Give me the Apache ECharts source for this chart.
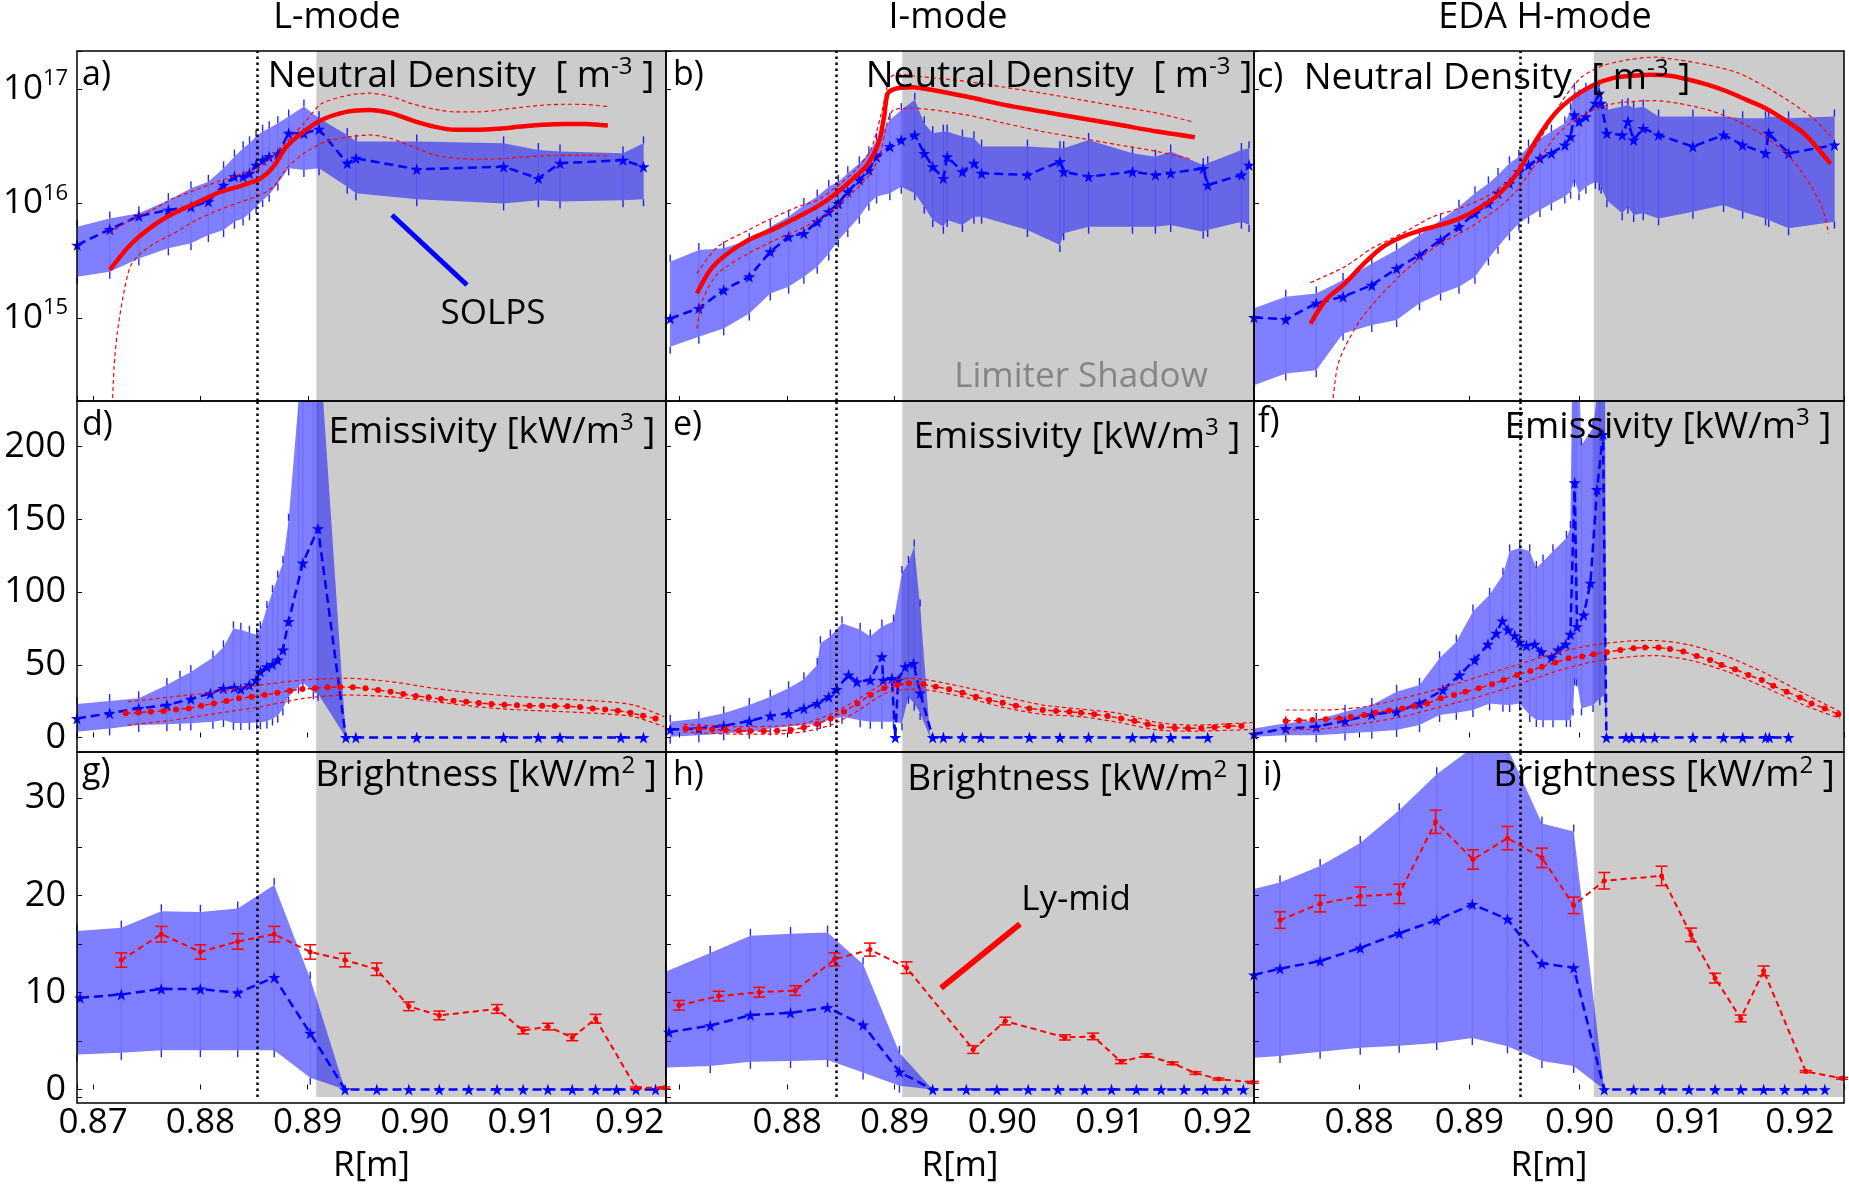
<!DOCTYPE html>
<html>
<head>
<meta charset="utf-8">
<title>Neutral density, emissivity and brightness profiles</title>
<script src="https://cdn.jsdelivr.net/npm/echarts@6.0.0/dist/echarts.min.js"></script>
<style>
  html, body { margin: 0; padding: 0; background: #fff; }
  #main { width: 1849px; height: 1187px; }
</style>
</head>
<body>
<div id="main"></div>
<script>
// ---------- data ----------
// bands are [R, lower, upper]; lines are [R, value]; brightness Ly-mid is [R, value, error]

// a) L-mode neutral density
var aBand = [[.8685,2.29e15,6.27e15],[.87154,2.53e15,7.41e15],[.87425,3.31e15,8.20e15],[.877,4.05e15,1.07e16],
  [.87911,4.48e15,1.36e16],[.88073,5.30e15,1.55e16],[.88215,5.86e15,2.03e16],[.88316,6.93e15,2.57e16],
  [.88397,7.41e15,3.04e16],[.88457,8.20e15,3.36e16],[.88518,9.38e15,3.85e16],[.88579,1.07e16,4.26e16],
  [.8864,1.19e16,4.55e16],[.88721,1.50e16,5.04e16],[.88822,2.03e16,5.77e16],[.88964,1.96e16,7.05e16],
  [.89105,2.03e16,5.57e16],[.89368,1.40e16,3.98e16],[.89449,1.23e16,3.48e16],[.90016,1.09e16,3.48e16],
  [.90826,1.00e16,3.36e16],[.9115,1.07e16,2.94e16],[.91352,1.04e16,2.85e16],[.91939,1.07e16,2.75e16],[.9213,1.09e16,3.36e16]];
var aSolps = [[.8685,4.33e15],[.87154,5.94e15],[.87425,7.76e15],[.877,8.77e15],[.87911,9.38e15],[.88073,1.04e16],
  [.88215,1.45e16],[.88316,1.72e16],[.88397,1.72e16],[.88457,1.84e16],[.88518,2.17e16],[.88579,2.40e16],
  [.8864,2.57e16],[.88721,2.72e16],[.88822,4.12e16],[.88964,4.12e16],[.89105,4.47e16],[.89368,2.25e16],
  [.89449,2.49e16],[.90016,1.99e16],[.90826,2.10e16],[.9115,1.66e16],[.91352,2.25e16],[.91939,2.40e16],[.9213,2.10e16]];
var aLy = [[.87154,2.62e15],[.87344,4.33e15],[.87547,6.27e15],[.87749,8.20e15],[.87951,1.00e16],[.88154,1.23e16],
  [.88397,1.45e16],[.88559,1.66e16],[.8868,2.10e16],[.88802,3.15e16],[.88964,4.26e16],[.89126,5.38e16],
  [.89368,6.37e16],[.89571,6.59e16],[.89773,6.17e16],[.89976,5.32e16],[.90178,4.71e16],[.90381,4.41e16],
  [.90583,4.41e16],[.90785,4.52e16],[.90988,4.71e16],[.9119,4.88e16],[.91393,4.97e16],[.91595,4.97e16],[.91798,4.81e16]];
var aLyHi = [[.87154,5.48e15],[.87344,7.16e15],[.87547,8.77e15],[.87749,1.11e16],[.87951,1.31e16],[.88154,1.55e16],
  [.88397,1.84e16],[.88559,2.10e16],[.88761,3.15e16],[.88964,5.04e16],[.89126,7.45e16],[.89368,8.81e16],
  [.89571,9.23e16],[.89773,8.63e16],[.89976,7.45e16],[.90178,6.69e16],[.90381,6.33e16],[.90583,6.33e16],
  [.90785,6.59e16],[.90988,6.95e16],[.9119,7.24e16],[.91393,7.39e16],[.91595,7.35e16],[.91798,7.05e16]];
var aLyLo = [[.87176,1.5e14],[.87194,3.72e14],[.87223,7.29e14],[.87283,1.63e15],[.87344,2.80e15],[.87425,3.54e15],
  [.87547,4.33e15],[.87749,5.48e15],[.87951,7.08e15],[.88154,8.65e15],[.88397,1.05e16],[.88559,1.19e16],
  [.8868,1.40e16],[.88802,2.03e16],[.88964,2.75e16],[.89166,3.48e16],[.89368,3.80e16],[.89571,3.98e16],
  [.89773,3.72e16],[.89976,3.15e16],[.90178,2.66e16],[.90381,2.49e16],[.90583,2.44e16],[.90785,2.46e16],
  [.90988,2.54e16],[.9119,2.61e16],[.91393,2.64e16],[.91595,2.64e16],[.91798,2.61e16]];

// b) I-mode neutral density
var bBand = [[.86914,5.57e14,3.10e15],[.8718,6.82e14,3.92e15],[.87411,8.07e14,4.05e15],[.87649,1.09e15,4.79e15],
  [.87844,1.63e15,6.27e15],[.88014,1.87e15,7.67e15],[.88156,2.29e15,9.70e15],[.8828,2.80e15,1.15e16],
  [.88387,3.66e15,1.40e16],[.88476,4.79e15,1.55e16],[.88564,5.86e15,1.84e16],[.88671,7.67e15,2.25e16],
  [.8876,1.00e16,2.75e16],[.88831,1.15e16,3.60e16],[.88955,1.23e16,5.38e16],[.89061,1.40e16,6.59e16],
  [.89186,1.23e16,8.07e16],[.89274,9.38e15,5.04e16],[.89353,7.16e15,4.12e16],[.89452,6.27e15,4.26e16],
  [.89487,7.16e15,4.26e16],[.89629,6.49e15,3.85e16],[.89736,7.67e15,3.72e16],[.89807,7.67e15,3.15e16],
  [.90233,5.86e15,3.15e16],[.90535,4.33e15,3.04e16],[.9057,5.48e15,3.04e16],[.90801,6.27e15,3.60e16],
  [.91209,6.27e15,2.75e16],[.91422,6.27e15,2.57e16],[.91564,6.49e15,2.85e16],[.91866,5.66e15,2.17e16],
  [.91908,5.86e15,2.25e16],[.92221,6.93e15,2.94e16],[.92292,6.49e15,3.04e16]];
var bSolps = [[.86914,9.86e14],[.8718,1.21e15],[.87411,1.75e15],[.87649,2.29e15],[.87844,3.79e15],[.88014,5.12e15],
  [.88156,5.48e15],[.8828,6.93e15],[.88387,8.48e15],[.88476,1.00e16],[.88564,1.27e16],[.88671,1.61e16],
  [.8876,1.96e16],[.88831,2.57e16],[.88955,3.15e16],[.89061,3.60e16],[.89186,3.98e16],[.89274,2.75e16],
  [.89353,2.10e16],[.89452,1.66e16],[.89487,2.57e16],[.89629,1.90e16],[.89736,2.25e16],[.89807,1.84e16],
  [.90233,1.78e16],[.90535,2.32e16],[.9057,1.90e16],[.90801,1.72e16],[.91209,1.90e16],[.91422,1.78e16],
  [.91564,1.84e16],[.91866,2.03e16],[.91908,1.45e16],[.92221,1.78e16],[.92292,2.17e16]];
var bLy = [[.87162,1.63e15],[.87286,2.62e15],[.87428,3.54e15],[.87641,4.79e15],[.8789,6.06e15],[.88103,7.67e15],
  [.8828,9.38e15],[.88458,1.23e16],[.886,1.61e16],[.88742,2.17e16],[.88848,3.36e16],[.88902,5.77e16],
  [.88937,9.23e16],[.89026,1.02e17],[.89168,1.04e17],[.8931,1.00e17],[.89665,8.63e16],[.9002,7.29e16],
  [.90375,6.37e16],[.9073,5.57e16],[.91085,4.88e16],[.9144,4.26e16],[.91788,3.80e16]];
var bLyHi = [[.87162,2.45e15],[.87357,4.19e15],[.87641,5.86e15],[.8789,7.67e15],[.88103,9.38e15],[.8828,1.07e16],
  [.88458,1.40e16],[.88635,1.96e16],[.88777,2.94e16],[.88884,6.59e16],[.88955,1.25e17],[.89026,1.36e17],
  [.89168,1.31e17],[.89665,1.17e17],[.9002,1.04e17],[.90375,9.23e16],[.9073,8.07e16],[.91085,7.05e16],
  [.9144,6.17e16],[.91759,5.21e16]];
var bLyLo = [[.87162,8.07e14],[.87215,1.43e15],[.87357,2.45e15],[.87641,3.66e15],[.8789,4.79e15],[.88103,5.86e15],
  [.8828,7.16e15],[.88458,9.38e15],[.88635,1.31e16],[.88777,1.84e16],[.88866,2.75e16],[.88937,5.38e16],
  [.8899,6.59e16],[.89168,6.82e16],[.89665,5.96e16],[.9002,5.04e16],[.90375,4.26e16],[.9073,3.72e16],
  [.91085,3.25e16],[.9144,2.85e16],[.91759,2.44e16]];

// c) EDA H-mode neutral density
var cR = [.87046,.87334,.87611,.87854,.88115,.8834,.88548,.88739,.88906,.89051,.89173,.8926,.89364,.8945,.89537,
  .89641,.89745,.89867,.89919,.89953,.89995,.90058,.90144,.90179,.90196,.90248,.90387,.90439,.90491,.90578,
  .90717,.91029,.91307,.9148,.91688,.91716,.91897,.92313];
var cSolpsN = [1.01e15,9.67e14,1.34e15,1.53e15,1.93e15,2.70e15,3.54e15,4.79e15,6.27e15,8.20e15,1.00e16,1.23e16,
  1.50e16,1.90e16,2.17e16,2.49e16,2.75e16,3.25e16,3.85e16,5.96e16,5.21e16,5.77e16,7.54e16,9.23e16,7.54e16,
  4.12e16,3.98e16,5.21e16,3.60e16,4.55e16,3.98e16,3.15e16,3.98e16,3.25e16,2.75e16,4.12e16,2.75e16,3.25e16];
var cBandLo = [2.57e14,3.25e14,3.48e14,7.29e14,8.63e14,9.55e14,1.34e15,1.63e15,1.87e15,2.29e15,3.31e15,4.19e15,
  5.48e15,6.70e15,7.67e15,8.77e15,1.00e16,1.15e16,1.27e16,1.61e16,1.23e16,1.40e16,1.55e16,1.50e16,1.40e16,
  1.07e16,8.20e15,9.38e15,7.93e15,8.20e15,7.41e15,8.48e15,9.70e15,8.48e15,7.41e15,7.16e15,6.06e15,6.93e15];
var cBandHi = [1.21e15,1.53e15,1.63e15,2.14e15,2.99e15,3.92e15,5.30e15,7.16e15,9.38e15,1.23e16,1.50e16,1.78e16,
  2.25e16,2.57e16,3.15e16,3.72e16,4.26e16,5.04e16,6.59e16,9.87e16,8.63e16,9.87e16,1.13e17,1.05e17,8.07e16,
  6.59e16,7.05e16,7.29e16,6.82e16,7.05e16,5.77e16,5.77e16,5.77e16,5.57e16,5.57e16,5.77e16,5.57e16,5.77e16];
var cLyR = [.87559,.87698,.87872,.88045,.88219,.88392,.88566,.88739,.88913,.89086,.8926,.89433,.89607,.8978,
  .89953,.90127,.90301,.90474,.90647,.90821,.90994,.91168,.91341,.91515,.91688,.91862,.92035,.92174,.92278];
var cLyN = [8.91e14,1.43e15,2.00e15,2.99e15,4.19e15,5.12e15,5.86e15,6.49e15,7.41e15,9.08e15,1.19e16,1.84e16,
  3.60e16,6.17e16,8.63e16,1.09e17,1.25e17,1.31e17,1.34e17,1.31e17,1.21e17,1.09e17,9.55e16,8.07e16,6.82e16,
  5.38e16,4.12e16,2.94e16,2.22e16];
var cLyHi = [[.87559,2.03e15],[.87872,2.80e15],[.88115,4.05e15],[.88392,5.48e15],[.8867,7.67e15],[.88913,9.08e15],
  [.89155,1.15e16],[.89364,1.61e16],[.89537,2.57e16],[.89711,4.71e16],[.89849,8.07e16],[.90023,1.29e17],
  [.90231,1.63e17],[.90474,1.83e17],[.90682,1.91e17],[.9089,1.81e17],[.91168,1.63e17],[.91446,1.38e17],
  [.91688,1.05e17],[.91931,7.54e16],[.92139,5.38e16],[.92278,3.85e16]];
var cLyLo = [[.8775,1.5e14],[.87802,3.72e14],[.87872,5.57e14],[.8801,9.55e14],[.88184,1.53e15],[.88392,2.45e15],
  [.88566,3.42e15],[.88739,4.48e15],[.88913,5.48e15],[.89086,6.93e15],[.8926,9.08e15],[.89433,1.31e16],
  [.89607,2.25e16],[.8978,3.85e16],[.89953,5.38e16],[.90127,6.59e16],[.90301,7.45e16],[.90474,7.80e16],
  [.90682,7.96e16],[.9089,7.54e16],[.91168,6.59e16],[.91446,5.21e16],[.91688,3.85e16],[.91931,2.40e16],
  [.92105,1.40e16],[.92209,8.77e15],[.92261,5.48e15]];

// d) L-mode emissivity
var dBand = [[.8685,3.9,23],[.87154,6.2,25],[.87425,8.5,27],[.87688,9.0,36],[.8781,9.5,41],[.87911,9.7,45],
  [.88117,10.8,55],[.88215,12,62],[.88308,10,75],[.88377,10,74],[.88457,10,72],[.88526,10.5,70.6],
  [.88559,10.5,75],[.8862,11,89],[.88672,13,100],[.88721,15,110],[.88769,20,120],[.88822,28,149],
  [.88915,35,231],[.88955,38,265],[.89053,31,280],[.89097,30,284],[.89356,0,0]];
var dSolps = [[.8685,13.1],[.87154,16.6],[.87425,20.0],[.87688,22.3],[.87911,26.4],[.88093,30.3],[.88215,33.8],
  [.88316,34.3],[.88377,33.3],[.88457,36.1],[.88518,39.5],[.88559,45.3],[.8862,48.7],[.88672,50.3],
  [.88721,53.3],[.88769,60.2],[.88822,79.8],[.88955,120.0],[.89097,143.7],[.89356,0],[.89449,0],
  [.90016,0],[.90826,0],[.9115,0],[.91352,0],[.91919,0],[.9213,0]];
var dLyR = [.87304,.87421,.87538,.87656,.87773,.87891,.88008,.88125,.88243,.8836,.88478,.88599,.88717,.88834,
  .88951,.89069,.89186,.89304,.89421,.89538,.89656,.89773,.89891,.90008,.90126,.90243,.9036,.90478,.90595,
  .90713,.90834,.90951,.91069,.91186,.91304,.91421,.91538,.91656,.91773,.91891,.92008,.92126,.92243];
var dLyE = [16.6,17.2,17.7,18.2,19.3,20.0,21.8,23.4,25.1,26.9,28.0,29.2,30.8,32.2,33.3,33.8,34.5,34.7,34.5,33.8,
  32.6,31.5,29.9,28.5,27.6,26.4,25.3,24.6,23.7,23.0,22.5,22.1,21.8,21.8,21.6,21.4,20.9,20.0,19.3,18.4,17.0,14.9,13.1];
var dFitR = [.87324,.87749,.88154,.88559,.88964,.89368,.89773,.90178,.90583,.90988,.91393,.91798,.9204,.92324];
var dLyHiE = [24.6,28.0,31.5,36.1,39.5,40.7,38.4,33.8,30.3,28.0,26.4,24.6,22.3,14.3];
var dLyLoE = [8.5,12.0,16.6,21.1,26.9,29.2,28.0,24.6,21.1,18.9,17.7,16.1,14.3,7.4];

// e) I-mode emissivity
var eBand = [[.86914,0.5,10.8],[.8718,1.6,13.1],[.87411,2.8,16.6],[.87649,3.9,22.3],[.87844,6.2,28.0],
  [.88014,7.5,33.8],[.88156,8.5,40],[.8828,9.5,50],[.88309,10.8,64.8],[.88402,12,69.4],[.8851,14.2,78.6],
  [.88679,11.9,74.0],[.88773,10.8,69.4],[.88881,10.8,76.3],[.88989,10.8,79.7],[.89067,9.7,113.1],
  [.89128,28,120.0],[.89181,23.4,131.4],[.89236,16.8,90.1],[.89329,0,0]];
var eSolps = [[.86914,5.5],[.8718,6.2],[.87411,8.0],[.87649,11.3],[.87844,14.9],[.88014,16.6],[.88156,20.0],
  [.8828,23.4],[.88387,28.0],[.88458,33.0],[.88571,43.0],[.88649,38.3],[.88773,39.5],[.88881,55.6],
  [.88893,39.5],[.88974,40.7],[.89005,0],[.89032,39.5],[.89097,48.7],[.89174,51.0],[.89236,30.6],
  [.89353,0],[.89452,0],[.89629,0],[.898,0],[.90251,0],[.90535,0],[.90801,0],[.91209,0],[.91404,0],
  [.91564,0],[.91908,0]];
var eLyR = [.87056,.8718,.87304,.87428,.87553,.87659,.87783,.87908,.88032,.88156,.8828,.88405,.88529,.88653,
  .88777,.88902,.89026,.89132,.89267,.89381,.89505,.89629,.89754,.89878,.90002,.90126,.90251,.90375,.90499,
  .90623,.9073,.90854,.90978,.91103,.91227,.91351,.91475,.916,.91724,.91848,.91972,.92097,.92221];
var eLyE = [6.2,6.2,5.5,5.1,4.6,4.4,4.4,4.6,5.1,6.9,9.2,13.1,17.7,23.4,29.2,33.8,36.1,37.2,36.6,34.9,33.1,30.8,
  28.0,25.7,23.9,21.8,20.0,18.9,18.2,17.7,17.0,15.9,14.7,13.1,11.3,9.0,7.4,6.7,6.4,6.4,7.1,7.8,7.8];
var eFitR = [.87038,.8718,.87535,.8789,.88156,.88422,.88671,.88902,.89132,.8931,.89665,.9002,.90375,.9073,
  .91085,.9144,.91795,.92327];
var eLyHiE = [9.0,8.5,7.4,7.8,9.7,16.6,26.9,37.2,40.7,39.5,34.3,28.0,22.3,19.5,16.6,10.3,8.5,10.3];
var eLyLoE = [3.9,3.2,2.3,2.3,3.9,9.0,18.9,29.9,33.1,32.6,27.4,20.5,15.9,14.3,10.3,5.1,4.4,5.5];

// f) EDA H-mode emissivity
var fBand = [[.87046,0.5,6.2],[.87334,1.6,9.7],[.87611,1.6,12.0],[.87872,2.8,17.7],[.88115,3.9,22.3],
  [.8834,5.1,31.5],[.88548,8.5,36.1],[.8873,15.4,54.5],[.88882,17,65.9],[.89033,18.8,86.6],[.89184,23.4,98.1],
  [.89305,22.5,111.9],[.89366,22.3,128.0],[.89457,23.4,130.3],[.89548,15.4,128.0],[.89608,12,116.6],
  [.89669,11.9,121.1],[.89759,11.9,128.0],[.89881,11.9,137.2],[.89917,11.9,144.1],[.89941,20,300],
  [.89956,40.7,300],[.89972,40,300],[.90018,20,201],[.90123,22.3,213],[.90184,27,250],[.90229,29.2,260],
  [.90244,0,0]];
var fSolps = [[.87046,2.3],[.87334,6.2],[.87611,7.4],[.87872,11.3],[.88115,15.9],[.8834,17.7],[.88548,23.4],
  [.8876,32.6],[.88912,43.0],[.89048,53.3],[.89169,64.1],[.89245,71.7],[.893,80.2],[.89351,74.0],[.89411,70.1],
  [.89457,65.5],[.89518,63.2],[.89593,64.1],[.89654,59.0],[.89745,54.9],[.89805,60.2],[.89875,64.1],
  [.89917,71.0],[.89956,175.2],[.89977,76.3],[.90038,84.3],[.90099,106.2],[.90159,170.6],[.90213,208.5],
  [.90244,0],[.90422,0],[.90474,0],[.90578,0],[.90682,0],[.91029,0],[.91307,0],[.9148,0],[.91688,0],
  [.91723,0],[.91897,0]];
var fLyR = [.87334,.87455,.87577,.87698,.8782,.87924,.88045,.88149,.88271,.88392,.88496,.88618,.88739,.88861,
  .88965,.89086,.89207,.89312,.89433,.89554,.89659,.8978,.89901,.90023,.90127,.90248,.9037,.90491,.90595,
  .90717,.90821,.90942,.91064,.91185,.91289,.91411,.91532,.91654,.91758,.91879,.92001,.92105,.92226,.92348];
var fLyE = [11.3,11.7,12.0,12.6,13.1,14.0,15.4,17.0,18.6,20.0,21.6,23.4,26.9,29.2,31.5,33.8,36.6,39.5,43.0,45.7,
  48.7,51.5,54.5,55.6,57.2,58.6,60.2,61.4,61.8,61.8,60.9,59.1,56.1,53.3,49.9,46.9,43.0,39.5,35.6,31.5,27.4,
  23.4,20.0,15.9];
var fFitR = [.87334,.87698,.88045,.88392,.88739,.89086,.89433,.8978,.90127,.90474,.90682,.90994,.91341,.91688,
  .92035,.92365];
var fLyHiE = [18.9,18.9,21.1,26.9,33.8,41.8,49.9,57.9,63.7,66.4,66.7,63.7,55.6,44.1,30.3,17.7];
var fLyLoE = [5.1,6.2,9.7,14.3,21.1,28.0,36.1,45.3,52.2,55.6,56.3,53.3,45.3,34.3,22.3,13.1];

// g) L-mode brightness
var gBand = [[.8685,3.61,16.33],[.87263,3.78,16.67],[.87636,4.05,18.36],[.88,4.05,18.29],[.88348,4.05,18.63],
  [.88688,4.05,21.06],[.89024,1.2,11.4],[.89348,0,0]];
var gSolps = [[.86879,9.45],[.87263,9.79],[.87636,10.36],[.88,10.36],[.88348,9.96],[.88688,11.54],[.89024,5.80],
  [.89348,0],[.89644,0],[.89943,0],[.90227,0],[.90502,0],[.90765,0],[.91008,0],[.91239,0],[.91466,0],
  [.91684,0],[.91879,0],[.9206,0],[.92243,0]];
var gLy = [[.87263,13.33,.74],[.87636,16.0,.8],[.88,14.17,.74],[.88348,15.25,.8],[.88688,16.0,.8],
  [.89024,14.17,.74],[.89348,13.33,.7],[.89644,12.39,.64],[.89943,8.57,.45],[.90227,7.63,.45],
  [.90765,8.30,.45],[.91008,6.07,.34],[.91239,6.48,.34],[.91466,5.37,.34],[.91684,7.29,.45],
  [.9206,0.17,.1],[.92324,0.17,.1]];

// h) I-mode brightness
var hBand = [[.86875,2.26,12.15],[.87286,2.43,14.07],[.87659,2.87,15.83],[.88032,2.94,16.03],[.88376,3.04,16.17],
  [.88706,1.75,12.89],[.89044,0.4,3.78],[.89353,0,0]];
var hSolps = [[.86903,5.91],[.87286,6.58],[.87659,7.66],[.88032,7.90],[.88376,8.44],[.88706,6.65],[.89044,1.82],
  [.89353,0],[.89665,0],[.89949,0],[.9024,0],[.90517,0],[.90765,0],[.91014,0],[.91245,0],[.91475,0],
  [.91688,0],[.91884,0],[.92072,0],[.92239,0]];
var hLy = [[.86995,8.67,.5],[.87365,9.62,.5],[.87741,10.02,.5],[.88075,10.19,.5],[.8844,13.40,.67],
  [.8877,14.41,.67],[.8911,12.55,.6],[.89729,4.12,.4],[.90027,7.05,.4],[.90581,5.37,.27],[.90843,5.47,.34],
  [.91103,2.87,.2],[.9134,3.51,.17],[.91582,2.70,.13],[.91795,1.69,.13],[.92008,1.08,.1],[.92327,0.74,.1]];

// i) EDA H-mode brightness
var iBand = [[.87046,3.27,20.65],[.87282,3.44,21.33],[.87646,3.88,23.02],[.8801,4.29,25.38],[.88364,4.52,28.75],
  [.88704,4.79,32.47],[.89027,5.30,35.2],[.89346,4.45,35.2],[.89659,2.94,27.40],[.89947,2.43,26.56],[.90224,0,0]];
var iSolps = [[.87046,11.81],[.87282,12.45],[.87646,13.23],[.8801,14.58],[.88364,16.10],[.88704,17.45],
  [.89027,19.07],[.89346,17.55],[.89659,12.99],[.89947,12.55],[.90224,0],[.90491,0],[.90752,0],[.90994,0],
  [.9123,0],[.91463,0],[.91671,0],[.91862,0],[.92053,0],[.92226,0]];
var iLy = [[.87282,17.45,.85],[.87646,19.14,.85],[.8801,19.91,.95],[.88364,20.15,1.0],[.88694,27.57,1.2],
  [.89034,23.69,1.0],[.89346,25.89,1.2],[.89659,23.86,1.0],[.89947,18.97,.85],[.90224,21.50,.85],
  [.90745,22.0,1.0],[.91012,15.93,.7],[.9123,11.47,.5],[.91463,7.32,.35],[.91671,12.22,.5],
  [.92053,1.86,.1],[.92382,1.15,.1]];

// axis ranges and markers per column / row
var X_RANGE = [[0.8685, 0.9234], [0.86875, 0.92338], [0.87046, 0.924]];
var SHADOW_FROM = [0.8908, 0.8907, 0.9013];
var SEPARATRIX = [0.8853, 0.8846, 0.8946];
var Y_RANGE = [[1.87e14, 2.16e17], [-10, 231.4], [-0.77, 34.76]];
var MODES = ['L-mode', 'I-mode', 'EDA H-mode'];

// ---------- layout ----------
var COLS = [[77, 589], [666, 588], [1254, 590]];
var ROWS = [[51, 350], [401, 351], [752, 351]];
var FONT = 'Open Sans';
var BLUE = '#0000ff', RED = '#ff0000';
var STAR = 'path://M50,0L61,35L98,35L68,57L79,91L50,70L21,91L32,57L2,35L39,35Z';

function zip(xs, ys) { return xs.map(function (x, i) { return [x, ys[i]]; }); }

var panels = [
  {band: aBand, solps: aSolps, ly: aLy, hi: aLyHi, lo: aLyLo},
  {band: bBand, solps: bSolps, ly: bLy, hi: bLyHi, lo: bLyLo},
  {band: cR.map(function (r, i) { return [r, cBandLo[i], cBandHi[i]]; }), solps: zip(cR, cSolpsN),
   ly: zip(cLyR, cLyN), hi: cLyHi, lo: cLyLo},
  {band: dBand, solps: dSolps, ly: zip(dLyR, dLyE), hi: zip(dFitR, dLyHiE), lo: zip(dFitR, dLyLoE)},
  {band: eBand, solps: eSolps, ly: zip(eLyR, eLyE), hi: zip(eFitR, eLyHiE), lo: zip(eFitR, eLyLoE)},
  {band: fBand, solps: fSolps, ly: zip(fLyR, fLyE), hi: zip(fFitR, fLyHiE), lo: zip(fFitR, fLyLoE)},
  {band: gBand, solps: gSolps, lyErr: gLy},
  {band: hBand, solps: hSolps, lyErr: hLy},
  {band: iBand, solps: iSolps, lyErr: iLy}
];

var grid = [], xAxis = [], yAxis = [], series = [], graphic = [];
var black = {color: '#000'};

panels.forEach(function (p, gi) {
  var r = Math.floor(gi / 3), c = gi % 3;
  grid.push({left: COLS[c][0], top: ROWS[r][0], width: COLS[c][1], height: ROWS[r][1]});

  xAxis.push({
    type: 'value', gridIndex: gi, min: X_RANGE[c][0], max: X_RANGE[c][1],
    axisLine: {show: false}, splitLine: {show: false},
    axisTick: {inside: true, length: 5, lineStyle: black},
    axisLabel: {
      show: r === 2, margin: 6, color: '#000', fontFamily: FONT, fontSize: 35, lineHeight: 40,
      formatter: function (v) {
        var k = Math.round(v * 100);
        if (Math.abs(v * 100 - k) > 1e-6) return '';
        if (c === 1 && k === 87) return '';
        return (k / 100).toFixed(2);
      }
    },
    name: r === 2 ? 'R[m]' : '', nameLocation: 'middle', nameGap: 49,
    nameTextStyle: {color: '#000', fontFamily: FONT, fontSize: 35, lineHeight: 40}
  });

  var y = {
    gridIndex: gi, min: Y_RANGE[r][0], max: Y_RANGE[r][1],
    axisLine: {show: false}, splitLine: {show: false},
    axisTick: {inside: true, length: 5, lineStyle: black},
    axisLabel: {show: c === 0, margin: 11, color: '#000', fontFamily: FONT, fontSize: 36}
  };
  if (r === 0) {
    y.type = 'log';
    y.logBase = 10;
    y.axisLabel.margin = 9;
    y.axisLabel.formatter = function (v) {
      var e = Math.log10(v), k = Math.round(e);
      return Math.abs(e - k) < 1e-6 ? '{b|10}{s|' + k + '}' : '';
    };
    y.axisLabel.rich = {
      b: {fontFamily: FONT, fontSize: 35, color: '#000', lineHeight: 42},
      s: {fontFamily: FONT, fontSize: 22, color: '#000', lineHeight: 30, verticalAlign: 'top'}
    };
  } else {
    var step = r === 1 ? 50 : 10;
    y.type = 'value';
    y.axisLabel.formatter = function (v) {
      return Math.abs(v / step - Math.round(v / step)) < 1e-6 ? String(Math.round(v)) : '';
    };
    if (r === 2) y.minorTick = {show: true, splitNumber: 2, length: 5, lineStyle: black};
  }
  yAxis.push(y);

  // limiter shadow and separatrix
  series.push({
    type: 'line', xAxisIndex: gi, yAxisIndex: gi, data: [], silent: true,
    markArea: {silent: true, itemStyle: {color: '#cccccc'},
      data: [[{xAxis: SHADOW_FROM[c]}, {xAxis: X_RANGE[c][1]}]]},
    markLine: {silent: true, precision: 6, symbol: ['none', 'none'], label: {show: false},
      lineStyle: {color: '#000', type: [2.5, 3.5], width: 2.5}, data: [{xAxis: SEPARATRIX[c]}]}
  });

  // SOLPS uncertainty band
  series.push({
    type: 'custom', xAxisIndex: gi, yAxisIndex: gi, z: 2, silent: true, data: [p.band[0]],
    renderItem: function (params, api) {
      var cs = params.coordSys;
      var up = p.band.map(function (d) { return api.coord([d[0], d[2]]); });
      var dn = p.band.map(function (d) { return api.coord([d[0], d[1]]); }).reverse();
      return {
        type: 'polygon', shape: {points: up.concat(dn)}, style: {fill: 'rgba(0,0,255,0.5)'},
        clipPath: {type: 'rect', shape: {x: cs.x, y: cs.y, width: cs.width, height: cs.height}}
      };
    }
  });

  // error bar ticks of the band: faint inside, solid where they stick out
  series.push({
    type: 'custom', xAxisIndex: gi, yAxisIndex: gi, z: 3, silent: true,
    data: p.band.filter(function (d) { return d[2] > d[1]; }),
    renderItem: function (params, api) {
      var cs = params.coordSys;
      var lo = api.coord([api.value(0), api.value(1)]);
      var hi = api.coord([api.value(0), api.value(2)]);
      var bottom = cs.y + cs.height;
      var yLo = Math.min(lo[1], bottom), yHi = Math.max(hi[1], cs.y);
      var solid = {stroke: 'rgba(0,0,255,0.85)', lineWidth: 1.4};
      return {type: 'group', children: [
        {type: 'line', shape: {x1: lo[0], y1: yLo, x2: lo[0], y2: yHi}, style: {stroke: 'rgba(0,0,255,0.12)', lineWidth: 1.3}},
        {type: 'line', shape: {x1: lo[0], y1: yLo, x2: lo[0], y2: Math.min(yLo + 7, bottom)}, style: solid},
        {type: 'line', shape: {x1: lo[0], y1: yHi, x2: lo[0], y2: Math.max(yHi - 7, cs.y)}, style: solid}
      ]};
    }
  });

  // SOLPS mean
  series.push({
    type: 'line', xAxisIndex: gi, yAxisIndex: gi, z: 4, data: p.solps,
    symbol: STAR, symbolSize: 12, showSymbol: true,
    lineStyle: {color: BLUE, width: 2.5, type: [9, 5]}, itemStyle: {color: BLUE}
  });

  // Ly-mid
  if (r < 2) {
    [p.hi, p.lo].forEach(function (d) {
      series.push({type: 'line', xAxisIndex: gi, yAxisIndex: gi, z: 5, data: d, symbol: 'none', smooth: 0.25,
        lineStyle: {color: RED, width: 1.2, type: [4, 3]}});
    });
    if (r === 0) {
      series.push({type: 'line', xAxisIndex: gi, yAxisIndex: gi, z: 6, data: p.ly, symbol: 'none', smooth: 0.3,
        lineStyle: {color: RED, width: 4.5}});
    } else {
      series.push({type: 'line', xAxisIndex: gi, yAxisIndex: gi, z: 6, data: p.ly, symbol: 'circle', symbolSize: 6,
        lineStyle: {color: RED, width: 1.5, type: [5, 3]}, itemStyle: {color: RED}});
    }
  } else {
    series.push({type: 'line', xAxisIndex: gi, yAxisIndex: gi, z: 6,
      data: p.lyErr.map(function (d) { return [d[0], d[1]]; }), symbol: 'circle', symbolSize: 5,
      lineStyle: {color: RED, width: 2, type: [6, 4]}, itemStyle: {color: RED}});
    series.push({
      type: 'custom', xAxisIndex: gi, yAxisIndex: gi, z: 6, silent: true,
      data: p.lyErr.map(function (d) { return [d[0], d[1] - d[2], d[1] + d[2]]; }),
      renderItem: function (params, api) {
        var lo = api.coord([api.value(0), api.value(1)]);
        var hi = api.coord([api.value(0), api.value(2)]);
        var s = {stroke: RED, lineWidth: 1.5};
        return {type: 'group', children: [
          {type: 'line', shape: {x1: lo[0], y1: lo[1], x2: hi[0], y2: hi[1]}, style: s},
          {type: 'line', shape: {x1: lo[0] - 6, y1: lo[1], x2: lo[0] + 6, y2: lo[1]}, style: s},
          {type: 'line', shape: {x1: hi[0] - 6, y1: hi[1], x2: hi[0] + 6, y2: hi[1]}, style: s}
        ]};
      }
    });
  }

  // frame
  graphic.push({type: 'rect', silent: true, z: 100,
    shape: {x: COLS[c][0], y: ROWS[r][0], width: COLS[c][1], height: ROWS[r][1]},
    style: {fill: 'none', stroke: '#000', lineWidth: 1.5}});
});

// ---------- text ----------
function txt(x, y, text, size, align, color) {
  return {type: 'text', x: x, y: y, z: 110, silent: true,
    style: {text: text, fontFamily: FONT, fontSize: size, fill: color || '#000',
      align: align || 'left', verticalAlign: 'middle'}};
}
function supTxt(x, y, pre, sup, post) {
  return {type: 'text', x: x, y: y, z: 110, silent: true,
    style: {text: '{n|' + pre + '}{s|' + sup + '}{n|' + post + '}', align: 'center', verticalAlign: 'middle',
      fontFamily: FONT, fontSize: 37, fill: '#000',
      rich: {n: {fontFamily: FONT, fontSize: 37, fill: '#000', lineHeight: 42},
             s: {fontFamily: FONT, fontSize: 24, fill: '#000', lineHeight: 30, verticalAlign: 'top'}}}};
}

var MODE_X = [337, 948, 1545];
MODES.forEach(function (m, i) { graphic.push(txt(MODE_X[i], 18, m, 36, 'center')); });

var LETTERS = ['a)', 'b)', 'c)', 'd)', 'e)', 'f)', 'g)', 'h)', 'i)'];
var LETTER_POS = [[82, 75], [673, 75], [1257, 77], [82, 425], [673, 425], [1258, 422], [82, 772], [673, 775], [1263, 775]];
LETTERS.forEach(function (l, i) { graphic.push(txt(LETTER_POS[i][0], LETTER_POS[i][1], l, 34)); });

var TITLE_POS = [[461, 76], [1059, 76], [1497, 78], [492, 432], [1077, 437], [1668, 427], [486, 775], [1078, 779], [1664, 775]];
TITLE_POS.forEach(function (pos, i) {
  var r = Math.floor(i / 3);
  if (r === 0) graphic.push(supTxt(pos[0], pos[1], 'Neutral Density  [ m', '-3', ' ]'));
  else if (r === 1) graphic.push(supTxt(pos[0], pos[1], 'Emissivity [kW/m', '3', ' ]'));
  else graphic.push(supTxt(pos[0], pos[1], 'Brightness [kW/m', '2', ' ]'));
});

graphic.push(txt(1081, 377, 'Limiter Shadow', 35, 'center', '#858585'));
graphic.push(txt(493, 314, 'SOLPS', 35, 'center'));
graphic.push({type: 'line', z: 110, silent: true, shape: {x1: 392, y1: 215, x2: 467, y2: 285},
  style: {stroke: BLUE, lineWidth: 5}});
graphic.push(txt(1076, 900, 'Ly-mid', 35, 'center'));
graphic.push({type: 'line', z: 110, silent: true, shape: {x1: 1020, y1: 924, x2: 941, y2: 988},
  style: {stroke: RED, lineWidth: 6}});

var chart = echarts.init(document.getElementById('main'));
chart.setOption({
  animation: false,
  backgroundColor: '#fff',
  grid: grid, xAxis: xAxis, yAxis: yAxis, series: series, graphic: graphic
});
</script>
</body>
</html>
